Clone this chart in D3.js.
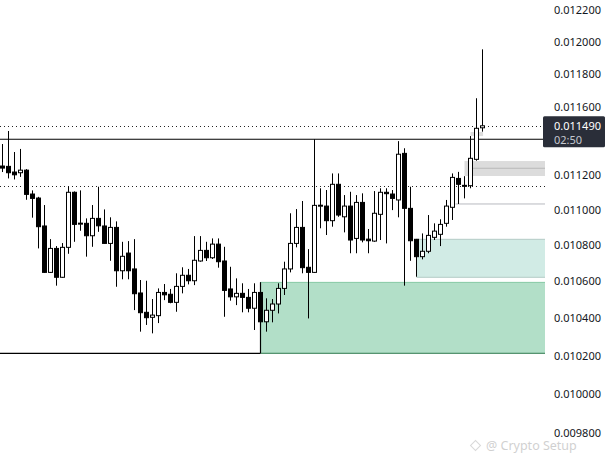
<!DOCTYPE html>
<html>
<head>
<meta charset="utf-8">
<script src="https://cdn.jsdelivr.net/npm/d3@7"></script>
<style>
  body { margin: 0; background: #fff; }
  svg { display: block; }
</style>
</head>
<body>
<svg id="chart" width="607" height="455"></svg>
<script>
////////////////////// data ////////////////////////////
var opens = [0.011253,0.011251,0.011218,0.011214,0.011229,0.011091,0.011068,0.010909,0.010650,0.010783,
  0.010623,0.010789,0.011101,0.010923,0.010924,0.010854,0.010952,0.010909,0.010811,0.010901,
  0.010659,0.010757,0.010669,0.010537,0.010432,0.010405,0.010414,0.010540,0.010530,0.010486,
  0.010573,0.010634,0.010604,0.010713,0.010772,0.010731,0.010807,0.010713,0.010559,0.010516,
  0.010535,0.010513,0.010454,0.010540,0.010381,0.010443,0.010477,0.010562,0.010669,0.010811,
  0.010901,0.010678,0.010650,0.011025,0.011022,0.010939,0.011147,0.010961,0.011022,0.010839,
  0.011043,0.010835,0.010824,0.010975,0.011101,0.011091,0.011057,0.011327,0.011009,0.010834,
  0.010737,0.010767,0.010845,0.010862,0.010924,0.011015,0.011181,0.011141,0.011139,0.011292,
  0.011478];
var highs = [0.011382,0.011459,0.011335,0.011353,0.011235,0.011112,0.011075,0.011028,0.010835,0.010796,
  0.010813,0.011135,0.011106,0.011112,0.010952,0.011028,0.011133,0.011003,0.010958,0.010935,
  0.010820,0.010824,0.010835,0.010608,0.010604,0.010504,0.010562,0.010586,0.010559,0.010645,
  0.010678,0.010669,0.010852,0.010852,0.010820,0.010839,0.010839,0.010792,0.010681,0.010617,
  0.010590,0.010559,0.010590,0.010595,0.010508,0.010504,0.010590,0.010709,0.010981,0.011005,
  0.011051,0.010779,0.011410,0.011124,0.011114,0.011210,0.011210,0.011085,0.011104,0.011085,
  0.011095,0.010892,0.011108,0.011124,0.011124,0.011114,0.011399,0.011357,0.011133,0.010836,
  0.010867,0.010971,0.010924,0.010947,0.011057,0.011210,0.011219,0.011194,0.011429,0.011655,
  0.011954];
var lows = [0.011218,0.011181,0.011175,0.011190,0.011058,0.010956,0.010783,0.010647,0.010647,0.010577,
  0.010620,0.010753,0.010820,0.010882,0.010737,0.010792,0.010876,0.010809,0.010714,0.010571,
  0.010612,0.010612,0.010444,0.010328,0.010364,0.010319,0.010374,0.010498,0.010481,0.010435,
  0.010535,0.010584,0.010580,0.010709,0.010713,0.010724,0.010676,0.010408,0.010495,0.010471,
  0.010432,0.010432,0.010337,0.010310,0.010328,0.010378,0.010426,0.010526,0.010650,0.010789,
  0.010645,0.010399,0.010647,0.010896,0.010858,0.010905,0.010961,0.010873,0.010756,0.010756,
  0.010817,0.010756,0.010820,0.010830,0.010811,0.010999,0.010958,0.010577,0.010714,0.010626,
  0.010722,0.010756,0.010830,0.010796,0.010905,0.010943,0.011034,0.011066,0.011124,0.011284,
  0.011455];
var closes = [0.011241,0.011214,0.011202,0.011229,0.011089,0.011066,0.010905,0.010650,0.010783,0.010623,
  0.010789,0.011101,0.010918,0.010925,0.010854,0.010952,0.010910,0.010811,0.010901,0.010659,
  0.010739,0.010659,0.010533,0.010430,0.010403,0.010417,0.010540,0.010527,0.010486,0.010573,
  0.010634,0.010604,0.010717,0.010772,0.010731,0.010807,0.010709,0.010551,0.010516,0.010535,
  0.010513,0.010454,0.010540,0.010381,0.010443,0.010477,0.010562,0.010669,0.010811,0.010901,
  0.010676,0.010650,0.011026,0.011027,0.010939,0.011147,0.010971,0.011022,0.010830,0.011043,
  0.010830,0.010826,0.010981,0.011101,0.011093,0.011066,0.011322,0.011009,0.010826,0.010737,
  0.010767,0.010856,0.010880,0.010918,0.011022,0.011187,0.011147,0.011137,0.011298,0.011475,
  0.011490];

// right price scale labels (0.011400 is hidden behind the last price tag)
var tickValues = [0.0122, 0.0120, 0.0118, 0.0116, 0.0112, 0.0110, 0.0108, 0.0106, 0.0104, 0.0102, 0.0100, 0.0098];

// drawn levels
var lastPrice = 0.011490;
var countdown = "02:50";
var resistance = 0.011410;      // solid black line
var dottedLevel = 0.011135;     // dotted line
var supportLine = 0.010213;     // bottom black line

// zones: [fromCandle, topPrice, bottomPrice]
var demandZone = [43, 0.010595, 0.010213];
var tealZone = [69, 0.010834, 0.010623];
var grayZone = [77, 0.011282, 0.011195];
var grayZoneMid = 0.011240;
var grayLine = [75.5, 0.011034];
var smallBox = [78, 80.1, 0.011453, 0.011429];

/////////////////////////////////////////////////////////////
var svg = d3.select("#chart");
var plotRight = 545;

var candles = opens.map(function(o, i) {
    return {i: i, o: o, h: highs[i], l: lows[i], c: closes[i]};
});

var x = d3.scaleLinear()
    .domain([0, candles.length - 1])
    .range([2.5, 482.5]);

var y = d3.scaleLog()
    .domain([0.0098, 0.0122])
    .range([433, 10]);

var gZones = svg.append("g");
var gLines = svg.append("g");
var gCandles = svg.append("g");

// green demand zone
gZones.append("rect")
    .attr("x", x(demandZone[0]))
    .attr("y", y(demandZone[1]))
    .attr("width", plotRight - x(demandZone[0]))
    .attr("height", y(demandZone[2]) - y(demandZone[1]))
    .attr("fill", "#b2dfc8");
gZones.append("line")
    .attr("x1", x(demandZone[0])).attr("x2", plotRight)
    .attr("y1", y(demandZone[1])).attr("y2", y(demandZone[1]))
    .attr("stroke", "#86c9a4").attr("stroke-width", 1);
gZones.append("line")
    .attr("x1", x(demandZone[0])).attr("x2", plotRight)
    .attr("y1", y(demandZone[2])).attr("y2", y(demandZone[2]))
    .attr("stroke", "#2f7a4d").attr("stroke-width", 1);

// teal zone
gZones.append("rect")
    .attr("x", x(tealZone[0]))
    .attr("y", y(tealZone[1]))
    .attr("width", plotRight - x(tealZone[0]))
    .attr("height", y(tealZone[2]) - y(tealZone[1]))
    .attr("fill", "#d1ebe5");
[tealZone[1], tealZone[2]].forEach(function(p) {
    gZones.append("line")
        .attr("x1", x(tealZone[0])).attr("x2", plotRight)
        .attr("y1", y(p)).attr("y2", y(p))
        .attr("stroke", "#b3cbc5").attr("stroke-width", 1);
});

// gray zone
gZones.append("rect")
    .attr("x", x(grayZone[0]))
    .attr("y", y(grayZone[1]))
    .attr("width", plotRight - x(grayZone[0]))
    .attr("height", y(grayZone[2]) - y(grayZone[1]))
    .attr("fill", "#dcdcdc");
gZones.append("line")
    .attr("x1", x(grayZone[0]) + 8).attr("x2", plotRight)
    .attr("y1", y(grayZoneMid)).attr("y2", y(grayZoneMid))
    .attr("stroke", "#b8b8b8").attr("stroke-width", 1);
gZones.append("rect")
    .attr("x", x(smallBox[0]))
    .attr("y", y(smallBox[2]))
    .attr("width", x(smallBox[1]) - x(smallBox[0]))
    .attr("height", y(smallBox[3]) - y(smallBox[2]))
    .attr("fill", "#dcdcdc");

gZones.append("line")
    .attr("x1", x(grayLine[0])).attr("x2", plotRight)
    .attr("y1", y(grayLine[1])).attr("y2", y(grayLine[1]))
    .attr("stroke", "#b7b9bf").attr("stroke-width", 1);

// levels
gLines.append("line")
    .attr("x1", 0).attr("x2", plotRight)
    .attr("y1", y(resistance)).attr("y2", y(resistance))
    .attr("stroke", "#000").attr("stroke-width", 1.2);

[dottedLevel, lastPrice].forEach(function(p) {
    gLines.append("line")
        .attr("x1", 0).attr("x2", plotRight)
        .attr("y1", Math.round(y(p)) + 0.5).attr("y2", Math.round(y(p)) + 0.5)
        .attr("stroke", "#222").attr("stroke-width", 1)
        .attr("stroke-dasharray", "1,3");
});

gLines.append("line")
    .attr("x1", 0).attr("x2", x(demandZone[0]))
    .attr("y1", y(supportLine)).attr("y2", y(supportLine))
    .attr("stroke", "#000").attr("stroke-width", 1.2);
gLines.append("line")
    .attr("x1", x(demandZone[0])).attr("x2", x(demandZone[0]))
    .attr("y1", y(demandZone[1])).attr("y2", y(supportLine))
    .attr("stroke", "#000").attr("stroke-width", 1.2);

// candles
var bodyW = 4;
var candle = gCandles.selectAll("g.candle")
    .data(candles)
    .enter().append("g")
    .attr("class", "candle");

candle.append("line")
    .attr("x1", function(d) { return x(d.i); })
    .attr("x2", function(d) { return x(d.i); })
    .attr("y1", function(d) { return y(d.h); })
    .attr("y2", function(d) { return y(d.l); })
    .attr("stroke", "#000")
    .attr("stroke-width", 1);

candle.append("rect")
    .attr("x", function(d) { return x(d.i) - bodyW / 2; })
    .attr("y", function(d) { return y(Math.max(d.o, d.c)); })
    .attr("width", bodyW)
    .attr("height", function(d) { return Math.max(1, Math.abs(y(d.o) - y(d.c))); })
    .attr("fill", function(d) { return d.c >= d.o ? "#fff" : "#000"; })
    .attr("stroke", "#000")
    .attr("stroke-width", 1);

// price scale
var yAxis = d3.axisRight(y)
    .tickValues(tickValues)
    .tickFormat(d3.format(".6f"))
    .tickSize(0)
    .tickPadding(0);

var axisG = svg.append("g")
    .attr("transform", "translate(554,0)")
    .call(yAxis);
axisG.select(".domain").remove();
axisG.selectAll("text")
    .attr("font-family", "'Noto Sans', sans-serif")
    .attr("font-size", 11)
    .attr("fill", "#131722");

// last price tag
var py = y(lastPrice);
svg.append("rect")
    .attr("x", 543).attr("y", py - 9.5)
    .attr("width", 62).attr("height", 31)
    .attr("rx", 1.5)
    .attr("fill", "#2a2e39");
svg.append("text")
    .attr("x", 554).attr("y", py).attr("dy", "0.35em")
    .attr("font-family", "'Noto Sans', sans-serif")
    .attr("font-size", 11)
    .attr("fill", "#fff")
    .text(d3.format(".6f")(lastPrice));
svg.append("text")
    .attr("x", 554).attr("y", py + 14).attr("dy", "0.35em")
    .attr("font-family", "'Noto Sans', sans-serif")
    .attr("font-size", 11)
    .attr("fill", "#c5c8d0")
    .text(countdown);

// watermark (kept just below the last axis label)
var wm = svg.append("g").attr("opacity", 0.45);
wm.append("rect")
    .attr("x", 472).attr("y", 442)
    .attr("width", 7).attr("height", 7)
    .attr("transform", "rotate(45,475.5,445.5)")
    .attr("fill", "none").attr("stroke", "#aaa").attr("stroke-width", 1);
wm.append("text")
    .attr("x", 486).attr("y", 446).attr("dy", "0.35em")
    .attr("font-family", "'Noto Sans', sans-serif")
    .attr("font-size", 12.5)
    .attr("fill", "#999")
    .text("@ Crypto Setup");
</script>
</body>
</html>
